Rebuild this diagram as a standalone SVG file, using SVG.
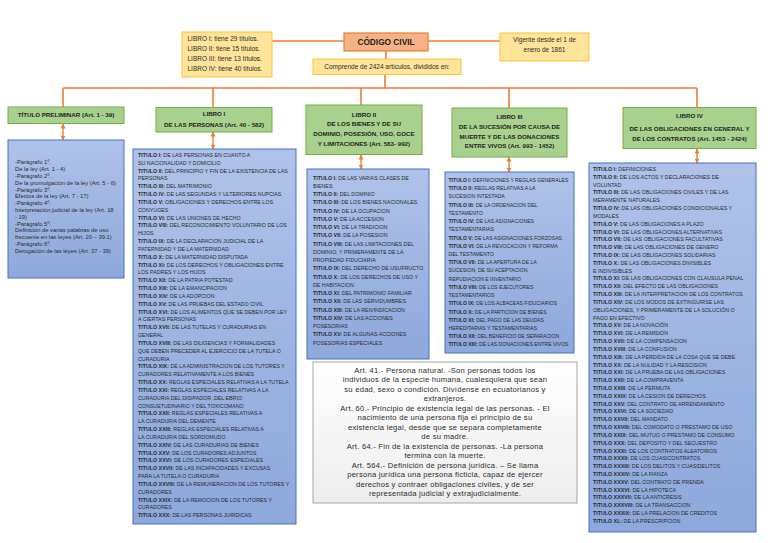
<svg xmlns="http://www.w3.org/2000/svg" width="768" height="543" viewBox="0 0 768 543">
<defs>
<linearGradient id="gBlue" x1="0" y1="0" x2="0" y2="1"><stop offset="0" stop-color="#AFC2E9"/><stop offset="1" stop-color="#8DA8DC"/></linearGradient>
<linearGradient id="gGray" x1="0" y1="0" x2="0" y2="1"><stop offset="0" stop-color="#FFFFFF"/><stop offset="1" stop-color="#EDEDED"/></linearGradient>
<marker id="ah" viewBox="0 0 10 10" refX="9" refY="5" markerWidth="5" markerHeight="5" markerUnits="userSpaceOnUse" orient="auto-start-reverse"><path d="M0,0 L10,5 L0,10 z" fill="#ED7D31"/></marker>
</defs>
<style>
text{font-family:"Liberation Sans",Arial,sans-serif;fill:#2B2B2B}
.note{fill:#FFE49A;stroke:#F9C33A;stroke-width:1}
.title{fill:#F4B183;stroke:#ED7D31;stroke-width:1.2}
.green{fill:#A9D18E;stroke:#70AD47;stroke-width:1}
.blue{fill:url(#gBlue);stroke:#4472C4;stroke-width:1}
.gray{fill:url(#gGray);stroke:#A5A5A5;stroke-width:1}
.conn{stroke:#ED7D31;stroke-width:1.6;fill:none}
.dbl{stroke:#ED7D31;stroke-width:1.4;fill:none;marker-start:url(#ah);marker-end:url(#ah)}
.nt{font-size:6.5px}
.gt{font-size:6.2px;font-weight:bold;text-anchor:middle;fill:#1F1F1F}
.tp{font-size:5.8px}
.up{font-size:5.3px}
.up3{font-size:5.1px}
.art{font-size:7.6px;text-anchor:middle;letter-spacing:0.25px}
.b{font-weight:bold}
</style>

<g id="connectors">
<line class="conn" x1="272" y1="41" x2="344" y2="41"/>
<line class="conn" x1="428" y1="41" x2="500" y2="41"/>
<line class="conn" x1="386" y1="51" x2="386" y2="59"/>
<line class="conn" x1="385" y1="74" x2="385" y2="88"/>
<line class="conn" x1="63" y1="88" x2="697" y2="88"/>
<line class="conn" x1="63" y1="88" x2="63" y2="107"/>
<line class="conn" x1="213" y1="88" x2="213" y2="107"/>
<line class="conn" x1="361" y1="88" x2="361" y2="105"/>
<line class="conn" x1="509" y1="88" x2="509" y2="108"/>
<line class="conn" x1="697" y1="88" x2="697" y2="107"/>
<line class="dbl" x1="63" y1="124" x2="63" y2="140"/>
<line class="dbl" x1="213" y1="132" x2="213" y2="149"/>
<line class="dbl" x1="361" y1="155" x2="361" y2="169"/>
<line class="dbl" x1="509" y1="157" x2="509" y2="172"/>
<line class="dbl" x1="697" y1="149" x2="697" y2="163"/>
</g>

<g id="note-libros">
<rect class="note" x="182" y="32" width="90" height="45"/>
<text class="nt" x="187.5" y="40.5">LIBRO I: tiene 29 títulos.</text>
<text class="nt" x="187.5" y="51">LIBRO II: tiene 15 títulos.</text>
<text class="nt" x="187.5" y="60.7">LIBRO III: tiene 13 títulos.</text>
<text class="nt" x="187.5" y="70.5">LIBRO IV: tiene 40 títulos.</text>
</g>

<g id="codigo-civil">
<rect class="title" x="344" y="33" width="84" height="18"/>
<text x="386" y="44.6" style="font-size:8.3px;font-weight:bold;text-anchor:middle;fill:#1F1F1F">CÓDIGO CIVIL</text>
</g>

<g id="note-vigente">
<rect class="note" x="500" y="33" width="89" height="28"/>
<text class="nt" x="544.5" y="42.3" text-anchor="middle">Vigente desde el 1 de</text>
<text class="nt" x="544.5" y="51.6" text-anchor="middle">enero de 1861</text>
</g>

<g id="comprende">
<rect class="note" x="313" y="59" width="148" height="15.5"/>
<text class="nt" x="387" y="69" text-anchor="middle">Comprende de 2424 artículos, divididos en:</text>
</g>

<g id="titulo-preliminar">
<rect class="green" x="8" y="107" width="116" height="16.5"/>
<text class="gt" x="66" y="117.3">TÍTULO PRELIMINAR (Art. 1 - 39)</text>
</g>

<g id="libro-1">
<rect class="green" x="156" y="107.5" width="116" height="24.5"/>
<text class="gt" x="214" y="115.5">LIBRO I</text>
<text class="gt" x="214" y="127.2">DE LAS PERSONAS (Art. 40 - 582)</text>
</g>

<g id="libro-2">
<rect class="green" x="306" y="105" width="116" height="49.5"/>
<text class="gt" x="364" y="116.5">LIBRO II</text>
<text class="gt" x="364" y="126.2">DE LOS BIENES Y DE SU</text>
<text class="gt" x="364" y="135.9">DOMINIO, POSESIÓN, USO, GOCE</text>
<text class="gt" x="364" y="145.5">Y LIMITACIONES (Art. 583- 992)</text>
</g>

<g id="libro-3">
<rect class="green" x="452" y="108" width="115" height="49"/>
<text class="gt" x="509.5" y="119.2">LIBRO III</text>
<text class="gt" x="509.5" y="128.9">DE LA SUCESIÓN POR CAUSA DE</text>
<text class="gt" x="509.5" y="138.9">MUERTE Y DE LAS DONACIONES</text>
<text class="gt" x="509.5" y="148.2">ENTRE VIVOS (Art. 993 - 1452)</text>
</g>

<g id="libro-4">
<rect class="green" x="623" y="107.5" width="133" height="41"/>
<text class="gt" x="689.5" y="117.9">LIBRO IV</text>
<text class="gt" x="689.5" y="130.5">DE LAS OBLIGACIONES EN GENERAL Y</text>
<text class="gt" x="689.5" y="140.5">DE LOS CONTRATOS (Art. 1453 - 2424)</text>
</g>

<g id="contenido-preliminar">
<rect class="blue" x="8" y="140" width="116" height="138"/>
<text class="tp" x="15" y="164.3">-Parágrafo 1º.</text>
<text class="tp" x="15" y="171.1">De la ley (Art. 1 - 4)</text>
<text class="tp" x="15" y="177.9">-Parágrafo 2º.</text>
<text class="tp" x="15" y="184.7">De la promulgación de la ley (Art. 5 - 6)</text>
<text class="tp" x="15" y="191.5">-Parágrafo 3º.</text>
<text class="tp" x="15" y="198.3">Efectos de la ley (Art. 7 - 17)</text>
<text class="tp" x="15" y="205.1">-Parágrafo 4º.</text>
<text class="tp" x="15" y="211.9">Interpretación judicial de la ley (Art. 18</text>
<text class="tp" x="15" y="218.7">- 19)</text>
<text class="tp" x="15" y="225.5">-Parágrafo 5º.</text>
<text class="tp" x="15" y="232.3">Definición de varias palabras de uso</text>
<text class="tp" x="15" y="239.1">frecuente en las leyes (Art. 20 – 39.1)</text>
<text class="tp" x="15" y="245.9">-Parágrafo 6º.</text>
<text class="tp" x="15" y="252.7">Derogación de las leyes (Art. 37 - 39)</text>
</g>

<g id="contenido-libro-1">
<rect class="blue" x="133" y="149" width="163" height="375"/>
<text class="up" x="138" y="157"><tspan class="b">TITULO I:</tspan> DE LAS PERSONAS EN CUANTO A</text>
<text class="up" x="138" y="164.83">SU NACIONALIDAD Y DOMICILIO</text>
<text class="up" x="138" y="172.66"><tspan class="b">TITULO II:</tspan> DEL PRINCIPIO Y FIN DE LA EXISTENCIA DE LAS</text>
<text class="up" x="138" y="180.49">PERSONAS</text>
<text class="up" x="138" y="188.32"><tspan class="b">TITULO III:</tspan> DEL MATRIMONIO</text>
<text class="up" x="138" y="196.15"><tspan class="b">TITULO IV:</tspan> DE LAS SEGUNDAS Y ULTERIORES NUPCIAS</text>
<text class="up" x="138" y="203.98"><tspan class="b">TITULO V:</tspan> OBLIGACIONES Y DERECHOS ENTRE LOS</text>
<text class="up" x="138" y="211.81">CONYUGES</text>
<text class="up" x="138" y="219.64"><tspan class="b">TITULO VI:</tspan> DE LAS UNIONES DE HECHO</text>
<text class="up" x="138" y="227.47"><tspan class="b">TITULO VIII:</tspan> DEL RECONOCIMIENTO VOLUNTARIO DE LOS</text>
<text class="up" x="138" y="235.3">HIJOS</text>
<text class="up" x="138" y="243.13"><tspan class="b">TITULO IX:</tspan> DE LA DECLARACION JUDICIAL DE LA</text>
<text class="up" x="138" y="250.96">PATERNIDAD Y DE LA MATERNIDAD</text>
<text class="up" x="138" y="258.79"><tspan class="b">TITULO X:</tspan> DE LA MATERNIDAD DISPUTADA</text>
<text class="up" x="138" y="266.62"><tspan class="b">TITULO XI:</tspan> DE LOS DERECHOS Y OBLIGACIONES ENTRE</text>
<text class="up" x="138" y="274.45">LOS PADRES Y LOS HIJOS</text>
<text class="up" x="138" y="282.28"><tspan class="b">TITULO XII:</tspan> DE LA PATRIA POTESTAD</text>
<text class="up" x="138" y="290.11"><tspan class="b">TITULO XIII:</tspan> DE LA EMANCIPACION</text>
<text class="up" x="138" y="297.94"><tspan class="b">TITULO XIV:</tspan> DE LA ADOPCION</text>
<text class="up" x="138" y="305.77"><tspan class="b">TITULO XV:</tspan> DE LAS PRUEBAS DEL ESTADO CIVIL</text>
<text class="up" x="138" y="313.6"><tspan class="b">TITULO XVI:</tspan> DE LOS ALIMENTOS QUE SE DEBEN POR LEY</text>
<text class="up" x="138" y="321.43">A CIERTAS PERSONAS</text>
<text class="up" x="138" y="329.26"><tspan class="b">TITULO XVII:</tspan> DE LAS TUTELAS Y CURADURIAS EN</text>
<text class="up" x="138" y="337.09">GENERAL</text>
<text class="up" x="138" y="344.92"><tspan class="b">TITULO XVIII:</tspan> DE LAS DILIGENCIAS Y FORMALIDADES</text>
<text class="up" x="138" y="352.75">QUE DEBEN PRECEDER AL EJERCICIO DE LA TUTELA O</text>
<text class="up" x="138" y="360.58">CURADURIA</text>
<text class="up" x="138" y="368.41"><tspan class="b">TITULO XIX:</tspan> DE LA ADMINISTRACION DE LOS TUTORES Y</text>
<text class="up" x="138" y="376.24">CURADORES RELATIVAMENTE A LOS BIENES</text>
<text class="up" x="138" y="384.07"><tspan class="b">TITULO XX:</tspan> REGLAS ESPECIALES RELATIVAS A LA TUTELA</text>
<text class="up" x="138" y="391.9"><tspan class="b">TITULO XXI:</tspan> REGLAS ESPECIALES RELATIVAS A LA</text>
<text class="up" x="138" y="399.73">CURADURIA DEL DISIPADOR, DEL EBRIO</text>
<text class="up" x="138" y="407.56">CONSUETUDINARIO Y DEL TOXICOMANO</text>
<text class="up" x="138" y="415.39"><tspan class="b">TITULO XXII:</tspan> REGLAS ESPECIALES RELATIVAS A</text>
<text class="up" x="138" y="423.22">LA CURADURIA DEL DEMENTE</text>
<text class="up" x="138" y="431.05"><tspan class="b">TITULO XXIII:</tspan> REGLAS ESPECIALES RELATIVAS A</text>
<text class="up" x="138" y="438.88">LA CURADURIA DEL SORDOMUDO</text>
<text class="up" x="138" y="446.71"><tspan class="b">TITULO XXIV:</tspan> DE LAS CURADURIAS DE BIENES</text>
<text class="up" x="138" y="454.54"><tspan class="b">TITULO XXV:</tspan> DE LOS CURADORES ADJUNTOS</text>
<text class="up" x="138" y="462.37"><tspan class="b">TITULO XXVI:</tspan> DE LOS CURADORES ESPECIALES</text>
<text class="up" x="138" y="470.2"><tspan class="b">TITULO XXVII:</tspan> DE LAS INCAPACIDADES Y EXCUSAS</text>
<text class="up" x="138" y="478.03">PARA LA TUTELA O CURADURIA</text>
<text class="up" x="138" y="485.86"><tspan class="b">TITULO XXVIII:</tspan> DE LA REMUNERACION DE LOS TUTORES Y</text>
<text class="up" x="138" y="493.69">CURADORES</text>
<text class="up" x="138" y="501.52"><tspan class="b">TITULO XXIX:</tspan> DE LA REMOCION DE LOS TUTORES Y</text>
<text class="up" x="138" y="509.35">CURADORES</text>
<text class="up" x="138" y="517.18"><tspan class="b">TITULO XXX:</tspan> DE LAS PERSONAS JURIDICAS</text>
</g>

<g id="contenido-libro-2">
<rect class="blue" x="307" y="169" width="122" height="190"/>
<text class="up" x="313" y="179.6"><tspan class="b">TITULO I:</tspan> DE LAS VARIAS CLASES DE</text>
<text class="up" x="313" y="187.85">BIENES</text>
<text class="up" x="313" y="196.1"><tspan class="b">TITULO II:</tspan> DEL DOMINIO</text>
<text class="up" x="313" y="204.35"><tspan class="b">TITULO III:</tspan> DE LOS BIENES NACIONALES</text>
<text class="up" x="313" y="212.6"><tspan class="b">TITULO IV:</tspan> DE LA OCUPACION</text>
<text class="up" x="313" y="220.85"><tspan class="b">TITULO V:</tspan> DE LA ACCESION</text>
<text class="up" x="313" y="229.1"><tspan class="b">TITULO VI:</tspan> DE LA TRADICION</text>
<text class="up" x="313" y="237.35"><tspan class="b">TITULO VII:</tspan> DE LA POSESION</text>
<text class="up" x="313" y="245.6"><tspan class="b">TITULO VIII:</tspan> DE LAS LIMITACIONES DEL</text>
<text class="up" x="313" y="253.85">DOMINIO, Y PRIMERAMENTE DE LA</text>
<text class="up" x="313" y="262.1">PROPIEDAD FIDUCIARIA</text>
<text class="up" x="313" y="270.35"><tspan class="b">TITULO IX:</tspan> DEL DERECHO DE USUFRUCTO</text>
<text class="up" x="313" y="278.6"><tspan class="b">TITULO X:</tspan> DE LOS DERECHOS DE USO Y</text>
<text class="up" x="313" y="286.85">DE HABITACION</text>
<text class="up" x="313" y="295.1"><tspan class="b">TITULO XI:</tspan> DEL PATRIMONIO FAMILIAR</text>
<text class="up" x="313" y="303.35"><tspan class="b">TITULO XII:</tspan> DE LAS SERVIDUMBRES</text>
<text class="up" x="313" y="311.6"><tspan class="b">TITULO XIII:</tspan> DE LA REIVINDICACION</text>
<text class="up" x="313" y="319.85"><tspan class="b">TITULO XIV:</tspan> DE LAS ACCIONES</text>
<text class="up" x="313" y="328.1">POSESORIAS</text>
<text class="up" x="313" y="336.35"><tspan class="b">TITULO XV:</tspan> DE ALGUNAS ACCIONES</text>
<text class="up" x="313" y="344.6">POSESORIAS ESPECIALES</text>
</g>

<g id="contenido-libro-3">
<rect class="blue" x="445" y="172" width="129" height="181"/>
<text class="up3" x="448.5" y="182"><tspan class="b">TITULO I:</tspan> DEFINICIONES Y REGLAS GENERALES</text>
<text class="up3" x="448.5" y="190.22"><tspan class="b">TITULO II:</tspan> REGLAS RELATIVAS A LA</text>
<text class="up3" x="448.5" y="198.44">SUCESION INTESTADA</text>
<text class="up3" x="448.5" y="206.66"><tspan class="b">TITULO III:</tspan> DE LA ORDENACION DEL</text>
<text class="up3" x="448.5" y="214.88">TESTAMENTO</text>
<text class="up3" x="448.5" y="223.1"><tspan class="b">TITULO IV:</tspan> DE LAS ASIGNACIONES</text>
<text class="up3" x="448.5" y="231.32">TESTAMENTARIAS</text>
<text class="up3" x="448.5" y="239.54"><tspan class="b">TITULO V:</tspan> DE LAS ASIGNACIONES FORZOSAS</text>
<text class="up3" x="448.5" y="247.76"><tspan class="b">TITULO VI:</tspan> DE LA REVOCACION Y REFORMA</text>
<text class="up3" x="448.5" y="255.98">DEL TESTAMENTO</text>
<text class="up3" x="448.5" y="264.2"><tspan class="b">TITULO VII:</tspan> DE LA APERTURA DE LA</text>
<text class="up3" x="448.5" y="272.42">SUCESION, DE SU ACEPTACION,</text>
<text class="up3" x="448.5" y="280.64">REPUDIACION E INVENTARIO</text>
<text class="up3" x="448.5" y="288.86"><tspan class="b">TITULO VIII:</tspan> DE LOS EJECUTORES</text>
<text class="up3" x="448.5" y="297.08">TESTAMENTARIOS</text>
<text class="up3" x="448.5" y="305.3"><tspan class="b">TITULO IX:</tspan> DE LOS ALBACEAS FIDUCIARIOS</text>
<text class="up3" x="448.5" y="313.52"><tspan class="b">TITULO X:</tspan> DE LA PARTICION DE BIENES</text>
<text class="up3" x="448.5" y="321.74"><tspan class="b">TITULO XI:</tspan> DEL PAGO DE LAS DEUDAS</text>
<text class="up3" x="448.5" y="329.96">HEREDITARIAS Y TESTAMENTARIAS</text>
<text class="up3" x="448.5" y="338.18"><tspan class="b">TITULO XII:</tspan> DEL BENEFICIO DE SEPARACION</text>
<text class="up3" x="448.5" y="346.4"><tspan class="b">TITULO XIII:</tspan> DE LAS DONACIONES ENTRE VIVOS</text>
</g>

<g id="contenido-libro-4">
<rect class="blue" x="589" y="163" width="167" height="369"/>
<text class="up" x="593" y="171"><tspan class="b">TITULO I:</tspan> DEFINICIONES</text>
<text class="up" x="593" y="178.82"><tspan class="b">TITULO II:</tspan> DE LOS ACTOS Y DECLARACIONES DE</text>
<text class="up" x="593" y="186.64">VOLUNTAD</text>
<text class="up" x="593" y="194.46"><tspan class="b">TITULO III:</tspan> DE LAS OBLIGACIONES CIVILES Y DE LAS</text>
<text class="up" x="593" y="202.28">MERAMENTE NATURALES</text>
<text class="up" x="593" y="210.1"><tspan class="b">TITULO IV:</tspan> DE LAS OBLIGACIONES CONDICIONALES Y</text>
<text class="up" x="593" y="217.92">MODALES</text>
<text class="up" x="593" y="225.74"><tspan class="b">TITULO V:</tspan> DE LAS OBLIGACIONES A PLAZO</text>
<text class="up" x="593" y="233.56"><tspan class="b">TITULO VI:</tspan> DE LAS OBLIGACIONES ALTERNATIVAS</text>
<text class="up" x="593" y="241.38"><tspan class="b">TITULO VII:</tspan> DE LAS OBLIGACIONES FACULTATIVAS</text>
<text class="up" x="593" y="249.2"><tspan class="b">TITULO VIII:</tspan> DE LAS OBLIGACIONES DE GENERO</text>
<text class="up" x="593" y="257.02"><tspan class="b">TITULO IX:</tspan> DE LAS OBLIGACIONES SOLIDARIAS</text>
<text class="up" x="593" y="264.84"><tspan class="b">TITULO X:</tspan> DE LAS OBLIGACIONES DIVISIBLES</text>
<text class="up" x="593" y="272.66">E INDIVISIBLES</text>
<text class="up" x="593" y="280.48"><tspan class="b">TITULO XI:</tspan> DE LAS OBLIGACIONES CON CLAUSULA PENAL</text>
<text class="up" x="593" y="288.3"><tspan class="b">TITULO XII:</tspan> DEL EFECTO DE LAS OBLIGACIONES</text>
<text class="up" x="593" y="296.12"><tspan class="b">TITULO XIII:</tspan> DE LA INTERPRETACION DE LOS CONTRATOS</text>
<text class="up" x="593" y="303.94"><tspan class="b">TITULO XIV:</tspan> DE LOS MODOS DE EXTINGUIRSE LAS</text>
<text class="up" x="593" y="311.76">OBLIGACIONES, Y PRIMERAMENTE DE LA SOLUCIÓN O</text>
<text class="up" x="593" y="319.58">PAGO EN EFECTIVO</text>
<text class="up" x="593" y="327.4"><tspan class="b">TITULO XV:</tspan> DE LA NOVACIÓN</text>
<text class="up" x="593" y="335.22"><tspan class="b">TITULO XVI:</tspan> DE LA REMISION</text>
<text class="up" x="593" y="343.04"><tspan class="b">TITULO XVII:</tspan> DE LA COMPENSACION</text>
<text class="up" x="593" y="350.86"><tspan class="b">TITULO XVIII:</tspan> DE LA CONFUSION</text>
<text class="up" x="593" y="358.68"><tspan class="b">TITULO XIX:</tspan> DE LA PERDIDA DE LA COSA QUE SE DEBE</text>
<text class="up" x="593" y="366.5"><tspan class="b">TITULO XX:</tspan> DE LA NULIDAD Y LA RESCISION</text>
<text class="up" x="593" y="374.32"><tspan class="b">TITULO XXI:</tspan> DE LA PRUEBA DE LAS OBLIGACIONES</text>
<text class="up" x="593" y="382.14"><tspan class="b">TITULO XXII:</tspan> DE LA COMPRAVENTA</text>
<text class="up" x="593" y="389.96"><tspan class="b">TITULO XXIII:</tspan> DE LA PERMUTA</text>
<text class="up" x="593" y="397.78"><tspan class="b">TITULO XXIV:</tspan> DE LA CESION DE DERECHOS</text>
<text class="up" x="593" y="405.6"><tspan class="b">TITULO XXV:</tspan> DEL CONTRATO DE ARRENDAMIENTO</text>
<text class="up" x="593" y="413.42"><tspan class="b">TITULO XXVI:</tspan> DE LA SOCIEDAD</text>
<text class="up" x="593" y="421.24"><tspan class="b">TITULO XXVII:</tspan> DEL MANDATO</text>
<text class="up" x="593" y="429.06"><tspan class="b">TITULO XXVIII:</tspan> DEL COMODATO O PRESTAMO DE USO</text>
<text class="up" x="593" y="436.88"><tspan class="b">TITULO XXIX:</tspan> DEL MUTUO O PRESTAMO DE CONSUMO</text>
<text class="up" x="593" y="444.7"><tspan class="b">TITULO XXX:</tspan> DEL DEPOSITO Y DEL SECUESTRO</text>
<text class="up" x="593" y="452.52"><tspan class="b">TITULO XXXI:</tspan> DE LOS CONTRATOS ALEATORIOS</text>
<text class="up" x="593" y="460.34"><tspan class="b">TITULO XXXII:</tspan> DE LOS CUASICONTRATOS</text>
<text class="up" x="593" y="468.16"><tspan class="b">TITULO XXXIII:</tspan> DE LOS DELITOS Y CUASIDELITOS</text>
<text class="up" x="593" y="475.98"><tspan class="b">TITULO XXXIV:</tspan> DE LA FIANZA</text>
<text class="up" x="593" y="483.8"><tspan class="b">TITULO XXXV:</tspan> DEL CONTRATO DE PRENDA</text>
<text class="up" x="593" y="491.62"><tspan class="b">TITULO XXXVI:</tspan> DE LA HIPOTECA</text>
<text class="up" x="593" y="499.44"><tspan class="b">TITULO XXXVII:</tspan> DE LA ANTICRESIS</text>
<text class="up" x="593" y="507.26"><tspan class="b">TITULO XXXVIII:</tspan> DE LA TRANSACCION</text>
<text class="up" x="593" y="515.08"><tspan class="b">TITULO XXXIX:</tspan> DE LA PRELACION DE CREDITOS</text>
<text class="up" x="593" y="522.9"><tspan class="b">TITULO XL:</tspan> DE LA PRESCRIPCION</text>
</g>

<g id="articulos">
<rect class="gray" x="313" y="362" width="264" height="141"/>
<text class="art" x="445" y="372.5">Art. 41.- Persona natural. -Son personas todos los</text>
<text class="art" x="445" y="382">individuos de la especie humana, cualesquiera que sean</text>
<text class="art" x="445" y="391.5">su edad, sexo o condición. Divídense en ecuatorianos y</text>
<text class="art" x="445" y="401">extranjeros.</text>
<text class="art" x="445" y="410.5">Art. 60.- Principio de existencia legal de las personas. - El</text>
<text class="art" x="445" y="420">nacimiento de una persona fija el principio de su</text>
<text class="art" x="445" y="429.5">existencia legal, desde que se separa completamente</text>
<text class="art" x="445" y="439">de su madre.</text>
<text class="art" x="445" y="448.5">Art. 64.- Fin de la existencia de personas. -La persona</text>
<text class="art" x="445" y="458">termina con la muerte.</text>
<text class="art" x="445" y="467.5">Art. 564.- Definición de persona jurídica. – Se llama</text>
<text class="art" x="445" y="477">persona jurídica una persona ficticia, capaz de ejercer</text>
<text class="art" x="445" y="486.5">derechos y contraer obligaciones civiles, y de ser</text>
<text class="art" x="445" y="496">representada judicial y extrajudicialmente.</text>
</g>
</svg>
